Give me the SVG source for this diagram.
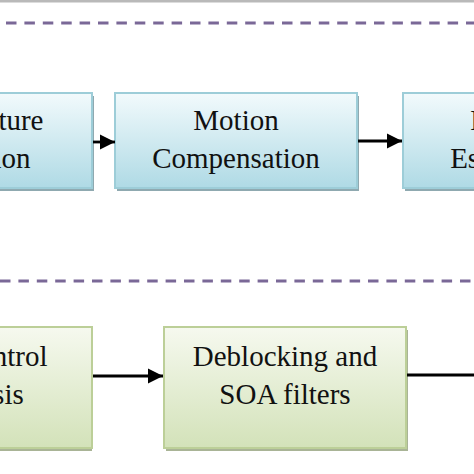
<svg xmlns="http://www.w3.org/2000/svg" width="474" height="474" viewBox="0 0 474 474">
<defs>
<linearGradient id="gBlue" x1="0" y1="0" x2="0" y2="1">
<stop offset="0" stop-color="#f2fafc"/>
<stop offset="1" stop-color="#afdae5"/>
</linearGradient>
<linearGradient id="gGreen" x1="0" y1="0" x2="0" y2="1">
<stop offset="0" stop-color="#f6f9ef"/>
<stop offset="1" stop-color="#d3e2b9"/>
</linearGradient>
<marker id="ah" viewBox="0 0 10 10" refX="10" refY="5" markerWidth="5.5" markerHeight="5.5" markerUnits="strokeWidth" orient="auto">
<path d="M0,0 L10,5 L0,10 z" fill="#000"/>
</marker>
</defs>
<style>
.blue{fill:url(#gBlue);stroke:#9dcdd8;stroke-width:2}
.green{fill:url(#gGreen);stroke:#bccf98;stroke-width:2}
.shB{fill:#8fa9b0}
.shG{fill:#a9b496}
.t{font-family:"Liberation Serif","Times New Roman",serif;font-size:29px;fill:#111;text-anchor:middle}
.dash{stroke:#7a6897;stroke-width:3;stroke-dasharray:10.5 7.9;fill:none}
.conn{stroke:#000;stroke-width:2.8;fill:none}
</style>
<rect x="0" y="0" width="474" height="2.5" fill="#b9b9b9"/>
<g id="separators">
<line class="dash" x1="6" y1="23" x2="474" y2="23"/>
<line class="dash" x1="0" y1="281" x2="474" y2="281"/>
</g>
<g id="intra-prediction">
<rect class="shB" x="-148" y="96" width="242" height="95"/>
<rect class="blue" x="-150" y="93" width="242" height="95"/>
<text class="t" x="-29" y="130">Intra-picture</text>
<text class="t" x="-29" y="168">Prediction</text>
</g>
<g id="motion-compensation">
<rect class="shB" x="117" y="96" width="242" height="95"/>
<rect class="blue" x="115" y="93" width="242" height="95"/>
<text class="t" x="236" y="130">Motion</text>
<text class="t" x="236" y="168">Compensation</text>
</g>
<g id="motion-estimation">
<rect class="shB" x="405" y="96" width="220" height="95"/>
<rect class="blue" x="403" y="93" width="220" height="95"/>
<text class="t" x="513" y="130">Motion</text>
<text class="t" x="513" y="168">Estimation</text>
</g>
<g id="rate-control">
<rect class="shG" x="-145" y="330" width="237" height="121"/>
<rect class="green" x="-147" y="327" width="239" height="121"/>
<text class="t" x="-27" y="366">Rate Control</text>
<text class="t" x="-27" y="404">Analysis</text>
</g>
<g id="deblocking">
<rect class="shG" x="166" y="330" width="242" height="121"/>
<rect class="green" x="164" y="327" width="242" height="121"/>
<text class="t" x="285" y="366">Deblocking and</text>
<text class="t" x="285" y="404">SOA filters</text>
</g>
<g id="connectors">
<line class="conn" x1="93" y1="142" x2="115" y2="142" marker-end="url(#ah)"/>
<line class="conn" x1="358" y1="141" x2="402" y2="141" marker-end="url(#ah)"/>
<line class="conn" x1="93" y1="376" x2="163" y2="376" marker-end="url(#ah)"/>
<line class="conn" x1="407" y1="375" x2="474" y2="375"/>
</g>
</svg>
